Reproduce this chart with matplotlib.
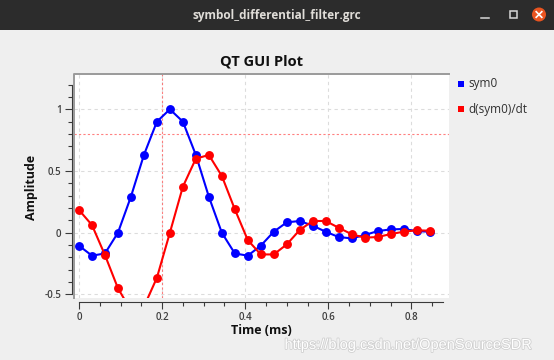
import matplotlib
matplotlib.use("Agg")
import matplotlib.pyplot as plt
import matplotlib.patheffects as pe
from matplotlib.patches import Rectangle, Circle
from matplotlib.ticker import MultipleLocator, FixedLocator

# ---------------- data ----------------
sample_rate_khz = 32.0
sym0 = [-0.105, -0.186, -0.168, 0.0, 0.292, 0.63, 0.90, 1.0, 0.90, 0.63,
        0.292, 0.0, -0.168, -0.186, -0.105, 0.008, 0.084, 0.095, 0.057, 0.008,
        -0.035, -0.046, -0.019, 0.013, 0.027, 0.030, 0.013, 0.008]
dsym0 = [0.184, 0.062, -0.181, -0.45, -0.63, -0.60, -0.365, 0.0, 0.373, 0.60,
         0.63, 0.46, 0.19, -0.06, -0.176, -0.176, -0.095, 0.022, 0.095, 0.095,
         0.04, -0.012, -0.04, -0.035, -0.011, 0.008, 0.02, 0.016]
time_ms = [n / sample_rate_khz for n in range(len(sym0))]
series_names = ["sym0", "d(sym0)/dt"]
series_colors = ["#0000ff", "#ff0000"]
x_ticks = [0, 0.2, 0.4, 0.6, 0.8]
x_ticklabels = ["0", "0.2", "0.4", "0.6", "0.8"]
y_ticks = [-0.5, 0, 0.5, 1]
y_ticklabels = ["-0.5", "0", "0.5", "1"]
marker_x, marker_y = 0.2, 0.8
window_title = "symbol_differential_filter.grc"
plot_title = "QT GUI Plot"
watermark = "https://blog.csdn.net/OpenSourceSDR"

# ---------------- figure ----------------
W, H = 554, 360
fig = plt.figure(figsize=(W / 100, H / 100), dpi=100, facecolor="#efefef")

bg = fig.add_axes([0, 0, 1, 1], zorder=0)
bg.set_xlim(0, W)
bg.set_ylim(H, 0)
bg.axis("off")

# window title bar
bg.add_patch(Rectangle((0, 0), W, 30, color="#2c2c2c", lw=0))
bg.text(277, 15.5, window_title, color="#e0ddd8", fontsize=8.5,
        family="Open Sans", weight="bold", ha="center", va="center")
bg.plot([481, 489], [17.5, 17.5], color="#d8d8d8", lw=1.1)
bg.add_patch(Rectangle((509.5, 11), 7, 7, fill=False, ec="#d8d8d8", lw=1.1))
bg.add_patch(Circle((539, 14.5), 7, color="#e95420", lw=0))
bg.plot([536.2, 541.8], [11.7, 17.3], color="white", lw=1.2)
bg.plot([536.2, 541.8], [17.3, 11.7], color="white", lw=1.2)

# legend (drawn manually, Qwt style)
for i, (name, col) in enumerate(zip(series_names, series_colors)):
    yy = 84 + 25 * i
    bg.plot(460.5, yy, marker="s", color=col, markersize=4.4, mew=0)
    bg.text(468, yy, name, fontsize=8.5, family="Open Sans", color="#303030",
            va="center", ha="left")

# ---------------- plot canvas ----------------
L, R, T, B = 74, 448.8, 74, 298
ax = fig.add_axes([L / W, 1 - B / H, (R - L) / W, (B - T) / H], zorder=1)
ax.set_facecolor("white")
ax.set_xlim(-0.012, 0.89)
ax.set_ylim(-0.529, 1.286)

ax.grid(True, which="major", color="#dcdcdc", linestyle=(0, (3, 3)), lw=0.8)
ax.axvline(marker_x, color="#ff6060", lw=0.8, linestyle=(0, (2, 2)), alpha=0.8)
ax.axhline(marker_y, color="#ff6060", lw=0.8, linestyle=(0, (2, 2)), alpha=0.8)

ax.plot(time_ms, sym0, color=series_colors[0], lw=1.5, marker="o",
        markersize=6.4, mew=0, zorder=3)
ax.plot(time_ms, dsym0, color=series_colors[1], lw=1.5, marker="o",
        markersize=6.4, mew=0, zorder=4)

for s in ["top", "right"]:
    ax.spines[s].set_visible(False)
axis_col = "#3a3a3a"
ax.spines["left"].set_position(("outward", 1.7))
ax.spines["left"].set_bounds(-0.5, 1.2)
ax.spines["bottom"].set_position(("outward", 2.9))
ax.spines["bottom"].set_bounds(0, 0.875)
for s in ["left", "bottom"]:
    ax.spines[s].set_color(axis_col)
    ax.spines[s].set_linewidth(0.8)

ax.xaxis.set_major_locator(FixedLocator(x_ticks))
ax.set_xticklabels(x_ticklabels)
ax.xaxis.set_minor_locator(MultipleLocator(0.05))
ax.yaxis.set_major_locator(FixedLocator(y_ticks))
ax.set_yticklabels(y_ticklabels)
ax.yaxis.set_minor_locator(MultipleLocator(0.1))
ax.tick_params(which="major", length=4.8, width=0.8, color=axis_col,
               labelsize=7, labelcolor="#404040", pad=2.5)
ax.tick_params(which="minor", length=2.9, width=0.8, color=axis_col)
for lab in ax.get_xticklabels() + ax.get_yticklabels():
    lab.set_family("Open Sans")
    lab.set_weight("semibold")

# canvas frame (sunken)
ax.plot([0, 0, 1], [0, 1, 1], transform=ax.transAxes, color="#9a9a9a",
        lw=1.4, clip_on=False, zorder=5)

# titles
bg.text((L + R) / 2, 61, plot_title, fontsize=10.5, family="Open Sans",
        weight="bold", ha="center", va="center", color="#101010")
bg.text(31, 187, "Amplitude", fontsize=9, family="Open Sans", weight="bold",
        rotation=90, ha="center", va="center", color="#101010")
bg.text(261, 331, "Time (ms)", fontsize=9, family="Open Sans", weight="bold",
        ha="center", va="center", color="#101010")

# watermark
fig.text(409 / W, 1 - 345 / H, watermark, fontsize=10.5, family="Liberation Sans",
         color="white", ha="center", va="center", zorder=10,
         path_effects=[pe.withStroke(linewidth=1.2, foreground="#d0d0d0")])

fig.savefig("out.png", dpi=100, facecolor=fig.get_facecolor())
